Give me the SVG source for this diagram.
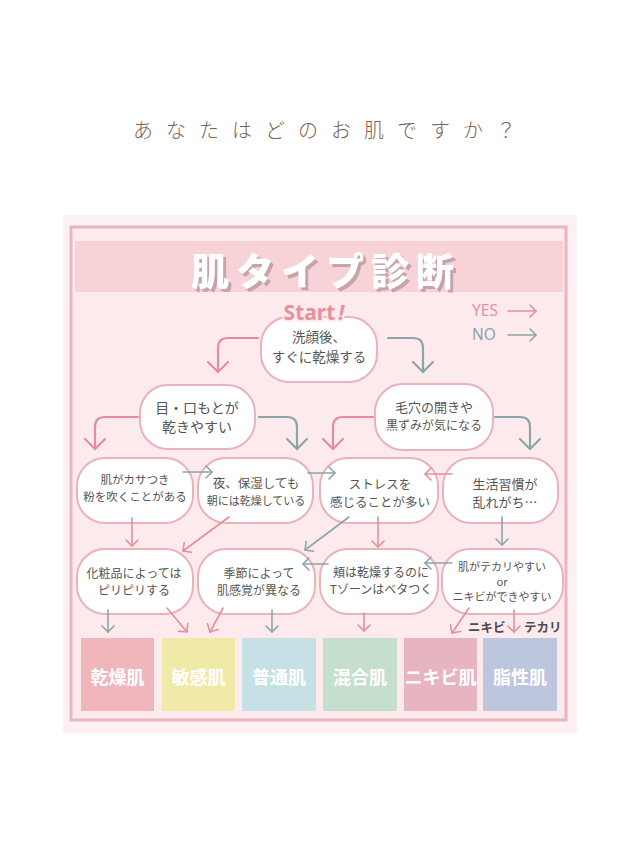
<svg xmlns="http://www.w3.org/2000/svg" width="640" height="853" viewBox="0 0 640 853">
<style>
.node rect{fill:#fff;stroke:#e9b3bc;stroke-width:2}
.nt{font-family:"Noto Sans CJK JP","Noto Sans",sans-serif;fill:#555;text-anchor:middle}
.y{fill:none;stroke:#e58d9c;stroke-linecap:round;stroke-linejoin:round}
.n{fill:none;stroke:#8da5a6;stroke-linecap:round;stroke-linejoin:round}
.big{stroke-width:2.2}
.sm{stroke-width:1.6}
.res rect{stroke:none}
.rt{font-family:"Noto Sans CJK JP",sans-serif;font-weight:700;fill:#fff;text-anchor:middle;font-size:18px}
</style>
<defs>
<filter id="sh" x="-10%" y="-20%" width="120%" height="150%">
<feDropShadow dx="3" dy="3" stdDeviation="0.6" flood-color="#c7a3aa" flood-opacity="1"/>
</filter>
<marker id="byes" markerUnits="userSpaceOnUse" markerWidth="16" markerHeight="24" refX="12" refY="12" orient="auto" overflow="visible">
<path d="M2,2 L12,12 L2,22" fill="none" stroke="#e58d9c" stroke-width="2.2" stroke-linecap="round" stroke-linejoin="round"/>
</marker>
<marker id="bno" markerUnits="userSpaceOnUse" markerWidth="16" markerHeight="24" refX="12" refY="12" orient="auto" overflow="visible">
<path d="M2,2 L12,12 L2,22" fill="none" stroke="#8da5a6" stroke-width="2.2" stroke-linecap="round" stroke-linejoin="round"/>
</marker>
<marker id="syes" markerUnits="userSpaceOnUse" markerWidth="12" markerHeight="16" refX="8" refY="8" orient="auto" overflow="visible">
<path d="M2,2 L8,8 L2,14" fill="none" stroke="#e58d9c" stroke-width="1.6" stroke-linecap="round" stroke-linejoin="round"/>
</marker>
<marker id="sno" markerUnits="userSpaceOnUse" markerWidth="12" markerHeight="16" refX="8" refY="8" orient="auto" overflow="visible">
<path d="M2,2 L8,8 L2,14" fill="none" stroke="#8da5a6" stroke-width="1.6" stroke-linecap="round" stroke-linejoin="round"/>
</marker>
</defs>
<rect width="640" height="853" fill="#fff"/>
<text x="331" y="138" font-family="Noto Sans CJK JP,sans-serif" font-weight="300" font-size="20" letter-spacing="13" fill="#7a6254" text-anchor="middle">あなたはどのお肌ですか？</text>
<rect x="63" y="215" width="514" height="518" fill="#fdf0f2"/>
<rect x="71" y="227" width="495" height="493" fill="#fdeaed" stroke="#eab5bd" stroke-width="3"/>
<rect x="75" y="241" width="488" height="51" fill="#f7d3d8"/>
<g id="header">
<text x="326" y="285" font-family="Noto Sans CJK JP,sans-serif" font-weight="900" font-size="38" letter-spacing="7" fill="#fff" text-anchor="middle" filter="url(#sh)">肌タイプ診断</text>
</g>
<g id="legend">
<text x="472" y="316" font-family="Noto Sans,sans-serif" font-size="15.5" fill="#e8919f">YES</text>
<path class="y" stroke-width="1.5" d="M508,311 H536" marker-end="url(#syes)"/>
<text x="472" y="340" font-family="Noto Sans,sans-serif" font-size="15.5" fill="#8e9fa5">NO</text>
<path class="n" stroke-width="1.5" d="M508,335 H536" marker-end="url(#sno)"/>
</g>
<g id="n-start" class="node"><rect x="261" y="317" width="116" height="65" rx="28"/>
<text class="nt" font-size="13.5"><tspan x="319" y="342">洗顔後、</tspan><tspan x="319" y="362">すぐに乾燥する</tspan></text>
<text x="314" y="320" font-family="Noto Sans,sans-serif" font-weight="700" font-size="21" fill="#e88f9f" stroke="#fdeaed" stroke-width="4" paint-order="stroke" text-anchor="middle">Start<tspan dx="3" font-style="italic">!</tspan></text></g>
<g id="n-a" class="node"><rect x="140" y="385" width="115" height="64" rx="28"/>
<text class="nt" font-size="14"><tspan x="197" y="413">目・口もとが</tspan><tspan x="197" y="432">乾きやすい</tspan></text></g>
<g id="n-b" class="node"><rect x="375" y="384" width="118" height="66" rx="28"/>
<text class="nt"><tspan x="434" y="412" font-size="13">毛穴の開きや</tspan><tspan x="434" y="430" font-size="12">黒ずみが気になる</tspan></text></g>
<g id="n-c" class="node"><rect x="77" y="458" width="116" height="65" rx="28"/>
<text class="nt" font-size="11.5"><tspan x="135" y="484">肌がカサつき</tspan><tspan x="135" y="501">粉を吹くことがある</tspan></text></g>
<g id="n-d" class="node"><rect x="198" y="458" width="115" height="65" rx="28"/>
<text class="nt"><tspan x="256" y="488" font-size="12.5">夜、保湿しても</tspan><tspan x="256" y="505" font-size="11">朝には乾燥している</tspan></text></g>
<g id="n-e" class="node"><rect x="320" y="458" width="118" height="65" rx="28"/>
<text class="nt" font-size="12.5"><tspan x="380" y="489">ストレスを</tspan><tspan x="380" y="507">感じることが多い</tspan></text></g>
<g id="n-f" class="node"><rect x="443" y="458" width="115" height="65" rx="28"/>
<text class="nt" font-size="13"><tspan x="505" y="489">生活習慣が</tspan><tspan x="505" y="507">乱れがち…</tspan></text></g>
<g id="n-g" class="node"><rect x="77" y="549" width="116" height="65" rx="28"/>
<text class="nt" font-size="12"><tspan x="134" y="578">化粧品によっては</tspan><tspan x="134" y="595">ピリピリする</tspan></text></g>
<g id="n-h" class="node"><rect x="198" y="549" width="117" height="65" rx="28"/>
<text class="nt" font-size="12"><tspan x="259" y="578">季節によって</tspan><tspan x="259" y="595">肌感覚が異なる</tspan></text></g>
<g id="n-i" class="node"><rect x="320" y="549" width="118" height="65" rx="28"/>
<text class="nt" font-size="12"><tspan x="381" y="577">頬は乾燥するのに</tspan><tspan x="381" y="594">Tゾーンはベタつく</tspan></text></g>
<g id="n-j" class="node"><rect x="442" y="549" width="121" height="65" rx="28"/>
<text class="nt" font-size="11"><tspan x="502" y="571">肌がテカリやすい</tspan><tspan x="502" y="586">or</tspan><tspan x="502" y="601">ニキビができやすい</tspan></text></g>
<g id="results" class="res">
<g id="r-dry"><rect x="81" y="638" width="73" height="73" fill="#f1b5bc"/><text class="rt" x="117.5" y="684">乾燥肌</text></g>
<g id="r-sens"><rect x="162" y="638" width="73" height="73" fill="#f0eaa8"/><text class="rt" x="198.5" y="684">敏感肌</text></g>
<g id="r-norm"><rect x="242" y="638" width="74" height="73" fill="#c5e1e6"/><text class="rt" x="279" y="684">普通肌</text></g>
<g id="r-comb"><rect x="323" y="638" width="74" height="73" fill="#c6dfcd"/><text class="rt" x="360" y="684">混合肌</text></g>
<g id="r-acne"><rect x="404" y="638" width="73" height="73" fill="#e7b5c1"/><text class="rt" x="440.5" y="684" font-size="17">ニキビ肌</text></g>
<g id="r-oil"><rect x="483" y="638" width="74" height="73" fill="#bdc6df"/><text class="rt" x="520" y="684">脂性肌</text></g>
</g>
<text x="468" y="632" font-family="Noto Sans CJK JP,sans-serif" font-weight="700" font-size="12.5" fill="#4a4a4a">ニキビ</text>
<text x="524" y="632" font-family="Noto Sans CJK JP,sans-serif" font-weight="700" font-size="12.5" fill="#4a4a4a">テカリ</text>
<g id="connectors">
<path class="y big" d="M258,338 H228 Q218,338 218,348 V372" marker-end="url(#byes)"/>
<path class="n big" d="M388,338 H413 Q423,338 423,348 V372" marker-end="url(#bno)"/>
<path class="y big" d="M138,417 H105 Q95,417 95,427 V449" marker-end="url(#byes)"/>
<path class="n big" d="M259,417 H287 Q297,417 297,427 V449" marker-end="url(#bno)"/>
<path class="y big" d="M373,417 H343 Q333,417 333,427 V449" marker-end="url(#byes)"/>
<path class="n big" d="M495,417 H520 Q530,417 530,427 V449" marker-end="url(#bno)"/>
<path class="n sm" d="M183,472 H212" marker-end="url(#sno)"/>
<path class="n sm" d="M308,473 H335" marker-end="url(#sno)"/>
<path class="y sm" d="M452,474 H425" marker-end="url(#syes)"/>
<path class="y sm" d="M132,518 V546" marker-end="url(#syes)"/>
<path class="y sm" d="M229,517 L183,551" marker-end="url(#syes)"/>
<path class="n sm" d="M349,517 L305,550" marker-end="url(#sno)"/>
<path class="y sm" d="M378,517 V547" marker-end="url(#syes)"/>
<path class="n sm" d="M502,517 V545" marker-end="url(#sno)"/>
<path class="n sm" d="M452,563 H425" marker-end="url(#sno)"/>
<path class="n sm" d="M328,564 H303" marker-end="url(#sno)"/>
<path class="n sm" d="M108,610 V632" marker-end="url(#sno)"/>
<path class="y sm" d="M167,608 L187,632" marker-end="url(#syes)"/>
<path class="y sm" d="M223,608 L210,632" marker-end="url(#syes)"/>
<path class="n sm" d="M272,610 V632" marker-end="url(#sno)"/>
<path class="y sm" d="M364,613 V631" marker-end="url(#syes)"/>
<path class="y sm" d="M469,608 L452,633" marker-end="url(#syes)"/>
<path class="y sm" d="M514,610 V632" marker-end="url(#syes)"/>
</g>
</svg>
